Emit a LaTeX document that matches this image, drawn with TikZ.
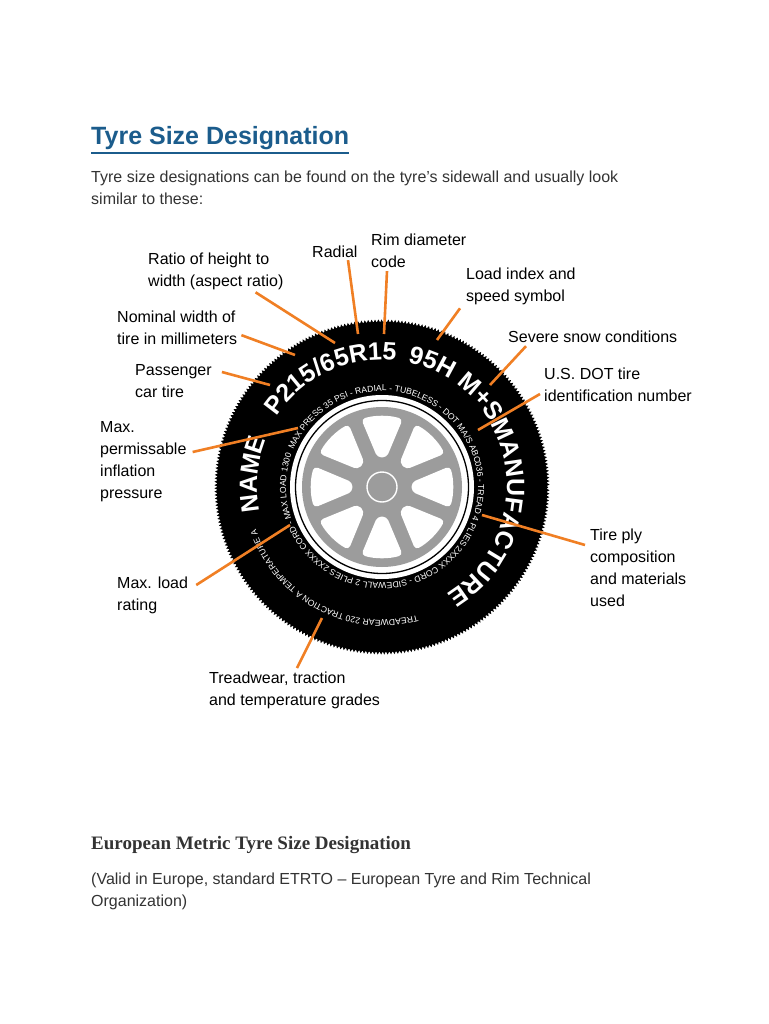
\documentclass[tikz,border=0pt]{standalone}
\usepackage{fontspec}
\setmainfont{Liberation Sans}
\newfontfamily\headserif{Liberation Serif}
\usetikzlibrary{decorations.text,decorations.pathmorphing}
\definecolor{leadorange}{HTML}{F07F24}
\definecolor{titleblue}{HTML}{1B5C8C}
\definecolor{bodygray}{HTML}{333333}
\definecolor{wheelgray}{HTML}{9C9C9C}
\tikzset{lbl/.append style={anchor=north west, inner sep=0pt, align=left, font=\fontsize{16}{22}\selectfont}}
\tikzset{lead/.append style={draw=leadorange, line width=2.6pt}}
\tikzset{bigtxt/.append style={decorate, decoration={text along path, text align=center, text color=white}}}
\newcommand{\bigfont}{\fontsize{25}{25}\bfseries}
\newcommand{\tinyfont}{\fontsize{8.6}{9}\selectfont}

\begin{document}
\begin{tikzpicture}[x=1pt,y=1pt]
                \useasboundingbox[fill=white] (0,0) rectangle (768,-1024);
                % page text
                \node[anchor=west, inner sep=0pt, font=\fontsize{25}{25}\bfseries, text=titleblue] (title) at (91,-138) {Tyre Size Designation};
                \draw[titleblue, line width=1.3pt] ([yshift=-3pt]title.south west) -- ([yshift=-3pt]title.south east);
                \node[lbl, text=bodygray] (intro) at (91,-171) {Tyre size designations can be found on the tyre's sidewall and usually look\\similar to these:};
                \node[anchor=west, inner sep=0pt, font=\headserif\fontsize{19}{19}\bfseries, text=bodygray] (euro) at (91,-845) {European Metric Tyre Size Designation};
                \node[lbl, text=bodygray] (valid) at (91,-873) {(Valid in Europe, standard ETRTO -- European Tyre and Rim Technical\\Organization)};
                % tyre
                \begin{scope}[shift={(382,-487)}]
                \coordinate (hub) at (0,0);
                \fill[decorate, decoration={zigzag, segment length=3.4pt, amplitude=1.6pt}] (hub) circle (166);
                \fill (hub) circle (165);
                \fill[white] (hub) circle (92);
                \draw[line width=1.3pt] (hub) circle (86.5);
                \fill[wheelgray] (hub) circle (80);
                \foreach \a in {0,45,...,315}
                    \fill[white, rounded corners=4pt] (\a-9:30) -- (\a-17:71) arc[start angle=\a-17, end angle=\a+17, radius=71] -- (\a+9:30) -- cycle;
                \draw[white, line width=1.4pt] (hub) circle (15);
                % sidewall lettering
                \path[bigtxt, decoration={text={|\bigfont|P215/65R15}}] (147:127) arc[start angle=147, end angle=83, radius=127];
                \path[bigtxt, decoration={text={|\bigfont|95H}}] (80:127) arc[start angle=80, end angle=56, radius=127];
                \path[bigtxt, decoration={text={|\bigfont|M+S}}] (54:127) arc[start angle=54, end angle=31, radius=127];
                \path[bigtxt, decoration={text={|\bigfont|MANUFACTURER}}] (25:125) arc[start angle=25, end angle=-62, radius=125];
                \path[bigtxt, decoration={text={|\bigfont|NAME}}] (197:125) arc[start angle=197, end angle=152, radius=125];
                \path[bigtxt, decoration={text={|\tinyfont|MAX PRESS 35 PSI - RADIAL - TUBELESS - DOT MA/S ABC036 - TREAD 4 PLIES 2XXXX CORD - SIDEWALL 2 PLIES 2XXXX CORD - MAX LOAD 1300 LBS}}]
                    (146:96) arc[start angle=146, end angle=-200, radius=96];
                \path[bigtxt, decoration={text={|\tinyfont|TREADWEAR 220 TRACTION A TEMPERATURE A}}]
                    (-64:133) arc[start angle=-64, end angle=-172, radius=133];
                % tips of the leaders
                \coordinate (rimtip) at (2,153);
                \coordinate (radtip) at (-24,153);
                \coordinate (ratiotip) at (-47,144);
                \coordinate (loadtip) at (55,147);
                \coordinate (widthtip) at (-87,132);
                \coordinate (snowtip) at (108,102);
                \coordinate (cartip) at (-112,102);
                \coordinate (dottip) at (96,57);
                \coordinate (presstip) at (-84,59);
                \coordinate (plytip) at (100,-28);
                \coordinate (maxtip) at (-92,-38);
                \coordinate (treadtip) at (-60,-131);
                \end{scope}
                % labels
                \node[lbl] (rim) at (371,-234) {Rim diameter\\code};
                \node[lbl] (radial) at (312,-246) {Radial};
                \node[lbl] (ratio) at (148,-253) {Ratio of height to\\width (aspect ratio)};
                \node[lbl] (load) at (466,-268) {Load index and\\speed symbol};
                \node[lbl] (width) at (117,-311) {Nominal width of\\tire in millimeters};
                \node[lbl] (snow) at (508,-331) {Severe snow conditions};
                \node[lbl] (car) at (135,-364) {Passenger\\car tire};
                \node[lbl] (dot) at (544,-368) {U.S. DOT tire\\identification number};
                \node[lbl] (press) at (100,-421) {Max.\\permissable\\inflation\\pressure};
                \node[lbl] (ply) at (590,-529) {Tire ply\\composition\\and materials\\used};
                \node[lbl] (maxload) at (117,-577) {Max. load\\rating};
                \node[lbl] (tread) at (209,-672) {Treadwear, traction\\and temperature grades};
                % leaders
                \draw[lead] ([xshift=16pt,yshift=-3pt]rim.south west) -- (rimtip);
                \draw[lead] ([xshift=36pt,yshift=-2pt]radial.south west) -- (radtip);
                \draw[lead] ([xshift=-28pt,yshift=-2pt]ratio.south east) -- (ratiotip);
                \draw[lead] ([xshift=-6pt,yshift=-3pt]load.south west) -- (loadtip);
                \draw[lead] ([xshift=4pt,yshift=10pt]width.south east) -- (widthtip);
                \draw[lead] ([xshift=18pt,yshift=-3pt]snow.south west) -- (snowtip);
                \draw[lead] ([xshift=10pt,yshift=-8pt]car.north east) -- (cartip);
                \draw[lead] ([xshift=-4pt,yshift=-26pt]dot.north west) -- (dottip);
                \draw[lead] ([xshift=6pt,yshift=-31pt]press.north east) -- (presstip);
                \draw[lead] ([xshift=-5pt,yshift=-16pt]ply.north west) -- (plytip);
                \draw[lead] ([xshift=8pt,yshift=-8pt]maxload.north east) -- (maxtip);
                \draw[lead] ([xshift=88pt,yshift=4pt]tread.north west) -- (treadtip);
            \end{tikzpicture}
\end{document}
